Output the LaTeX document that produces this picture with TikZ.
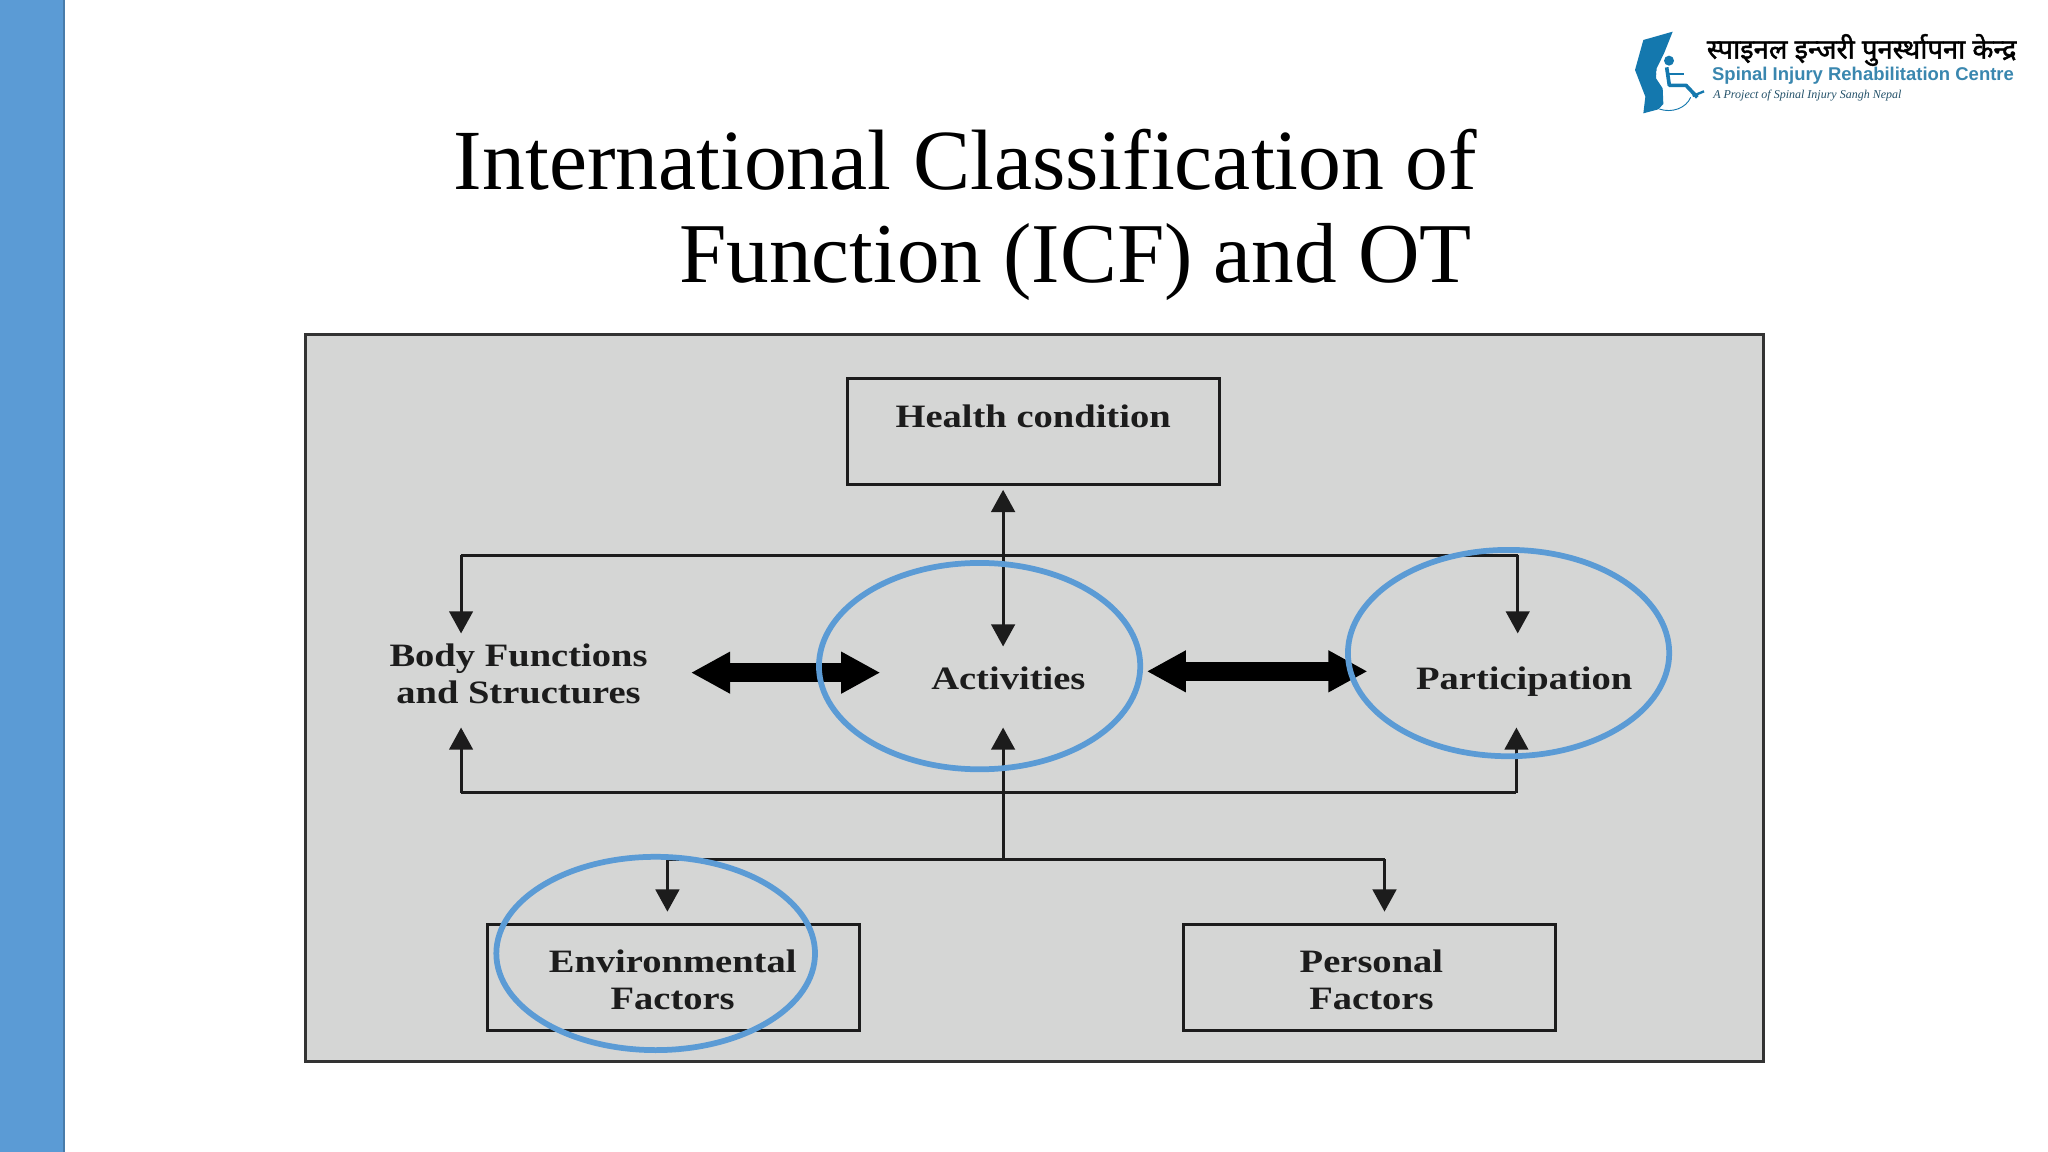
\documentclass[tikz,border=0pt]{standalone}
\usepackage{graphicx}
\usepackage{fontspec}
\usetikzlibrary{arrows.meta,calc}
\setmainfont{Liberation Serif}
\newfontfamily\diagfont[FakeStretch=1.18,BoldFont={Liberation Serif Bold}]{Liberation Serif}
\newfontfamily\logosans{Liberation Sans}
\newfontfamily\hindi[Script=Devanagari,FakeBold=1.6]{Noto Sans}
\definecolor{slideblue}{HTML}{5B9BD5}
\definecolor{barblue}{HTML}{5B9BD5}
\definecolor{panel}{HTML}{D5D6D5}
\definecolor{ink}{HTML}{1C1C1C}
\definecolor{logoblue}{HTML}{1478AE}
\definecolor{logotext}{HTML}{3A87AF}
\tikzset{
  x=1pt,y=-1pt,
  box/.style={draw=ink,line width=2.3pt,fill=none,minimum width=285pt,minimum height=81pt,inner sep=0pt},
  lbl/.style={font=\diagfont\bfseries\fontsize{25}{28.5}\selectfont,align=center,text=ink,inner sep=0pt},
  thin line/.style={draw=ink,line width=2.4pt},
  thin arrow/.style={thin line,-{Triangle[length=17pt,width=18pt]}},
  thin both/.style={thin line,{Triangle[length=17pt,width=18pt]}-{Triangle[length=17pt,width=18pt]}},
  thick arrow/.style={draw=black,line width=15pt,{Triangle[length=30pt,width=30pt]}-{Triangle[length=30pt,width=30pt]}},
  ring/.style={draw=slideblue,line width=4.4pt,fill=none},
}
\begin{document}
\begin{tikzpicture}
\useasboundingbox (0,0) rectangle (1568,882);
\fill[white] (0,0) rectangle (1568,882);
\fill[barblue] (0,0) rectangle (49,882);
\draw[barblue!80!black,line width=.8pt] (49,0) -- (49,882);

% title
\node[anchor=base east,inner sep=0pt,font=\fontsize{65.6}{70}\selectfont] (t1) at (1131,145) {International Classification of};
\node[anchor=base east,inner sep=0pt,font=\fontsize{65.2}{70}\selectfont] (t2) at (1127,216) {Function (ICF) and OT};

% panel
\draw[fill=panel,draw=ink!90,line width=2.4pt] (234,256) rectangle (1350,813);

% boxes and labels
\node[box] (hc) at (791.5,330.5) {};
\node[lbl] (hct) at (791,319) {Health condition};
\node[box] (ef) at (515.5,748.5) {};
\node[lbl] (eft) at (515,750) {Environmental\\Factors};
\node[box] (pf) at (1048.5,748.5) {};
\node[lbl] (pft) at (1050,750) {Personal\\Factors};
\node[lbl] (bf) at (397,516) {Body Functions\\and Structures};
\node[lbl] (ac) at (772,519) {Activities};
\node[lbl] (pa) at (1167,522) {Participation};

% junctions and free ends
\coordinate (hcIn) at (768,375);
\coordinate (acTop) at (768,495);
\coordinate (topL) at (353,425);
\coordinate (topR) at (1162,425);
\coordinate (bfTop) at (353,485);
\coordinate (paTop) at (1162,485);
\coordinate (botL) at (353,607);
\coordinate (botR) at (1161,607);
\coordinate (bfBot) at (353,557);
\coordinate (paBot) at (1161,557);
\coordinate (acBot) at (768,557);
\coordinate (hub) at (768,658);
\coordinate (hubL) at (511,658);
\coordinate (hubR) at (1060,658);
\coordinate (efIn) at (511,698);
\coordinate (pfIn) at (1060,698);
\coordinate (bfR) at (529,515);
\coordinate (acL) at (674,515);
\coordinate (acR) at (878,514);
\coordinate (paL) at (1047,514);

% connectors
\draw[thin both] (hcIn) -- (acTop);
\draw[thin line] (topL) -- (topR);
\draw[thin arrow] (topL) -- (bfTop);
\draw[thin arrow] (topR) -- (paTop);
\draw[thin line] (botL) -- (botR);
\draw[thin arrow] (botL) -- (bfBot);
\draw[thin arrow] (botR) -- (paBot);
\draw[thin arrow] (hub) -- (acBot);
\draw[thin line] (hubL) -- (hubR);
\draw[thin arrow] (hubL) -- (efIn);
\draw[thin arrow] (hubR) -- (pfIn);
\draw[thick arrow] (bfR) -- (acL);
\draw[thick arrow] (acR) -- (paL);

% highlight ellipses
\draw[ring] (750,510) ellipse [x radius=123,y radius=79];
\draw[ring] (1155,500) ellipse [x radius=123,y radius=79];
\draw[ring] (502,730) ellipse [x radius=122,y radius=74];

% logo
\begin{scope}[xshift=1225pt,yshift=-7.66pt,x=0.2552pt,y=-0.2552pt]
  \fill[logoblue] (130,90) -- (218,65) -- (192,130) -- (170,175) -- (168,205) -- (188,235) -- (190,282) -- (175,298) -- (130,310) -- (136,260) -- (105,180) -- cycle;
  \fill[logoblue] (207,152) circle [radius=15];
  \draw[logoblue,line width=2.8pt,line join=round] (200,172) -- (208,226) -- (258,226) -- (292,262);
  \draw[logoblue,line width=2.2pt] (208,192) -- (252,192);
  \draw[logoblue,line width=1.8pt] (278,258) -- (312,244);
  \draw[logoblue,line width=.7pt] (178,297) .. controls (215,310) and (258,295) .. (272,262);
  \draw[white,line width=.7pt] (192,172) .. controls (168,170) and (164,195) .. (178,208);
  \node[inner sep=0pt,font=\hindi,text=black] (lh) at (785,120) {\resizebox{237pt}{!}{स्पाइनल इन्जरी पुनर्स्थापना केन्द्र}};
  \node[inner sep=0pt,font=\logosans\bfseries,text=logotext] (ls) at (789,197) {\resizebox{231pt}{!}{Spinal Injury Rehabilitation Centre}};
  \node[inner sep=0pt,font=\itshape,text=logotext!60!black] (lp) at (622,257) {\resizebox{144pt}{!}{A Project of Spinal Injury Sangh Nepal}};
\end{scope}
\end{tikzpicture}
\end{document}
